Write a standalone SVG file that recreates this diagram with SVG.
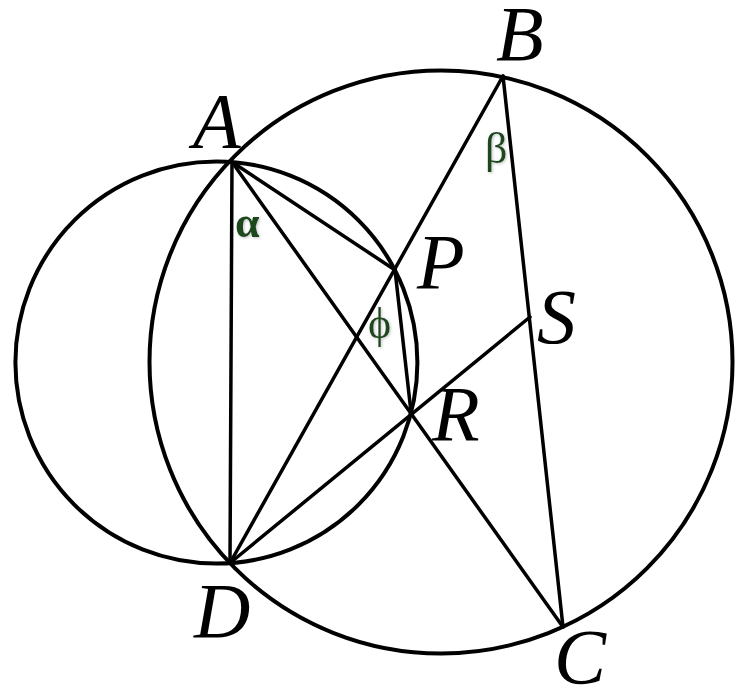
<svg xmlns="http://www.w3.org/2000/svg" width="742" height="695" viewBox="0 0 742 695">
<style>
.c{fill:none;stroke:#000;stroke-width:4}
.l{fill:none;stroke:#000;stroke-width:3.5;stroke-linecap:round}
.lab{font-family:"Liberation Serif",serif;font-style:italic;font-size:78px;fill:#000}
.gr{font-family:"Liberation Serif",serif;font-size:44px;fill:#1b4a1b;filter:url(#glow)}
</style>
<defs>
<filter id="glow" x="-30%" y="-30%" width="160%" height="160%">
<feGaussianBlur in="SourceAlpha" stdDeviation="1.5" result="b"/>
<feFlood flood-color="#999" flood-opacity="0.6"/>
<feComposite in2="b" operator="in" result="s"/>
<feOffset dx="1" dy="1" result="o"/>
<feMerge><feMergeNode in="o"/><feMergeNode in="SourceGraphic"/></feMerge>
</filter>
</defs>
<rect width="742" height="695" fill="#fff"/>
<g id="circles">
<circle id="small-circle" class="c" cx="216.4" cy="362.5" r="201"/>
<circle id="large-circle" class="c" cx="441" cy="362" r="291.5"/>
</g>
<g id="connectors">
<line class="l" x1="232" y1="162" x2="230" y2="563"/>
<line class="l" x1="232" y1="162" x2="395" y2="270"/>
<line class="l" x1="232" y1="162" x2="563" y2="627"/>
<line class="l" x1="230" y1="563" x2="503" y2="76"/>
<line class="l" x1="503" y1="76" x2="563" y2="627"/>
<line class="l" x1="230" y1="563" x2="530" y2="317"/>
<line class="l" x1="395" y1="270" x2="411" y2="412"/>
</g>
<g id="A"><text class="lab" x="193" y="147">A</text></g>
<g id="B"><text class="lab" x="496" y="60">B</text></g>
<g id="P"><text class="lab" x="417" y="288">P</text></g>
<g id="S"><text class="lab" x="537" y="343">S</text></g>
<g id="R"><text class="lab" x="432" y="440">R</text></g>
<g id="D"><text class="lab" x="194" y="637">D</text></g>
<g id="C"><text class="lab" x="554" y="683">C</text></g>
<g id="alpha"><text class="gr" x="235" y="237" font-weight="bold">α</text></g>
<g id="beta"><text class="gr" x="485" y="163">β</text></g>
<g id="phi"><text class="gr" x="368" y="338">ϕ</text></g>
</svg>
